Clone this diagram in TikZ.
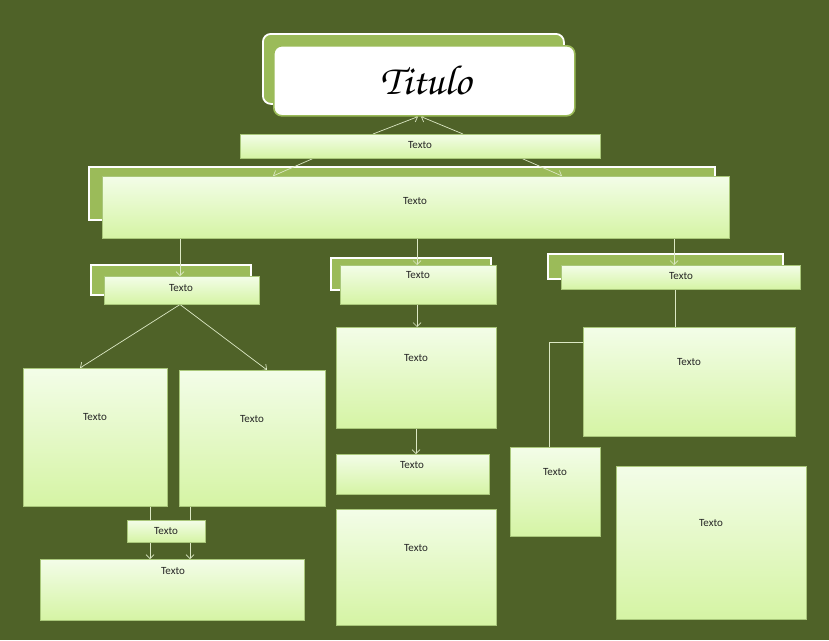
\documentclass[tikz,border=0pt]{standalone}
\usepackage[T1,TU]{fontenc}
\usepackage{fontspec}
\usepackage{xcolor}
\usepackage{tikz}
\usetikzlibrary{shapes,arrows,arrows.meta,positioning,calc,backgrounds,shadows}
\newfontfamily\carlito{Carlito}
\newcommand{\titlefont}{\fontencoding{T1}\fontfamily{pzc}\fontseries{m}\fontshape{it}\selectfont}

\definecolor{bgolive}{HTML}{4F6228}
\definecolor{backgreen}{HTML}{9BBB59}
\definecolor{boxtop}{HTML}{F3FDE8}
\definecolor{boxbot}{HTML}{D5F4A4}
\definecolor{boxline}{HTML}{A9C77A}
\definecolor{linecol}{HTML}{DCE8C4}

\pgfdeclarelayer{bg}
\pgfdeclarelayer{links}
\pgfsetlayers{bg,links,main}

\tikzset{
    box/.style={draw=boxline, line width=0.5pt, top color=boxtop, bottom color=boxbot,
        inner sep=0pt, anchor=north west,
        drop shadow={shadow xshift=1.2pt, shadow yshift=-1.2pt, opacity=0.35}},
    backbox/.style={draw=white, line width=1.8pt, fill=backgreen, inner sep=0pt, anchor=north west},
    txt/.style={font=\carlito\fontsize{11}{13}\selectfont, text=black!85},
    arr/.style={-{Straight Barb[length=4pt,width=8pt]}, draw=linecol, line width=0.7pt},
    link/.style={draw=linecol, line width=0.7pt}
}

\begin{document}
\begin{tikzpicture}[x=1pt, y=-1pt]
    \begin{pgfonlayer}{bg}
    \fill[bgolive] (0,0) rectangle (829,640);
    % green boxes behind
    \node[backbox, rounded corners=8pt, minimum width=301pt, minimum height=70pt] (title-back) at (262,33) {};
    \node[backbox, minimum width=626pt, minimum height=53pt] (main-back) at (88,166) {};
    \node[backbox, minimum width=160pt, minimum height=30pt] (lsub-back) at (90,264) {};
    \node[backbox, minimum width=160pt, minimum height=32pt] (msub-back) at (330,257) {};
    \node[backbox, minimum width=235pt, minimum height=25pt] (rsub-back) at (547,253) {};
    \end{pgfonlayer}
    \useasboundingbox (0,0) rectangle (829,640);

    % title
    \node[draw=backgreen, line width=1.6pt, fill=white, rounded corners=8pt, anchor=north west,
        minimum width=301pt, minimum height=70pt] (title) at (273,45) {};
    \node (title-t) at (426,80) {\titlefont\fontsize{42}{46}\selectfont Titulo};

    % first rows
    \node[box, minimum width=360pt, minimum height=24pt] (bar) at (240,134) {};
    \node[txt] (bar-t) at (420,145) {Texto};
    \node[box, minimum width=627pt, minimum height=62pt] (main) at (102,176) {};
    \node[txt] (main-t) at (415,201) {Texto};
    \node[box, minimum width=155pt, minimum height=28pt] (lsub) at (104,276) {};
    \node[txt] (lsub-t) at (181,288) {Texto};
    \node[box, minimum width=156pt, minimum height=39pt] (msub) at (340,265) {};
    \node[txt] (msub-t) at (418,275) {Texto};
    \node[box, minimum width=239pt, minimum height=24pt] (rsub) at (561,265) {};
    \node[txt] (rsub-t) at (681,276) {Texto};

    % left column
    \node[box, minimum width=144pt, minimum height=138pt] (la) at (23,368) {};
    \node[txt] (la-t) at (95,417) {Texto};
    \node[box, minimum width=146pt, minimum height=136pt] (lb) at (179,370) {};
    \node[txt] (lb-t) at (252,419) {Texto};
    \node[box, minimum width=78pt, minimum height=22pt] (lsmall) at (127,520) {};
    \node[txt] (lsmall-t) at (166,531) {Texto};
    \node[box, minimum width=264pt, minimum height=61pt] (lbottom) at (40,559) {};
    \node[txt] (lbottom-t) at (173,571) {Texto};

    % middle column
    \node[box, minimum width=160pt, minimum height=101pt] (mc) at (336,327) {};
    \node[txt] (mc-t) at (416,358) {Texto};
    \node[box, minimum width=153pt, minimum height=40pt] (md) at (336,454) {};
    \node[txt] (md-t) at (412,465) {Texto};
    \node[box, minimum width=160pt, minimum height=116pt] (me) at (336,509) {};
    \node[txt] (me-t) at (416,548) {Texto};

    % right column
    \node[box, minimum width=212pt, minimum height=109pt] (rf) at (583,327) {};
    \node[txt] (rf-t) at (689,362) {Texto};
    \node[box, minimum width=90pt, minimum height=89pt] (rg) at (510,447) {};
    \node[txt] (rg-t) at (555,472) {Texto};
    \node[box, minimum width=190pt, minimum height=153pt] (rh) at (616,466) {};
    \node[txt] (rh-t) at (711,523) {Texto};

    \begin{pgfonlayer}{links}
    \draw[arr] (bar.north -| 373,0) -- (title.south -| 418,0);
    \draw[arr] (bar.north -| 463,0) -- (title.south -| 421,0);
    \draw[arr] (bar.south -| 313,0) -- (main.north -| 273,0);
    \draw[arr] (bar.south -| 522,0) -- (main.north -| 562,0);
    \draw[arr] (main.south -| 180,0) -- (lsub.north -| 180,0);
    \draw[arr] (main.south -| 417,0) -- (msub.north -| 417,0);
    \draw[arr] (main.south -| 674,0) -- (rsub.north -| 674,0);
    \draw[arr] (lsub.south -| 180,0) -- (la.north -| 80,0);
    \draw[arr] (lsub.south -| 180,0) -- (lb.north -| 267,0);
    \draw[arr] (la.south -| 150,0) -- (lbottom.north -| 150,0);
    \draw[arr] (lb.south -| 190,0) -- (lbottom.north -| 190,0);
    \draw[arr] (msub.south -| 417,0) -- (mc.north -| 417,0);
    \draw[arr] (mc.south -| 416,0) -- (md.north -| 416,0);
    \draw[link] (rsub.south -| 675,0) -- (rf.north -| 675,0);
    \draw[link] (rf.west |- 0,342) -| (rg.north -| 549,0);
    \end{pgfonlayer}
\end{tikzpicture}
\end{document}
